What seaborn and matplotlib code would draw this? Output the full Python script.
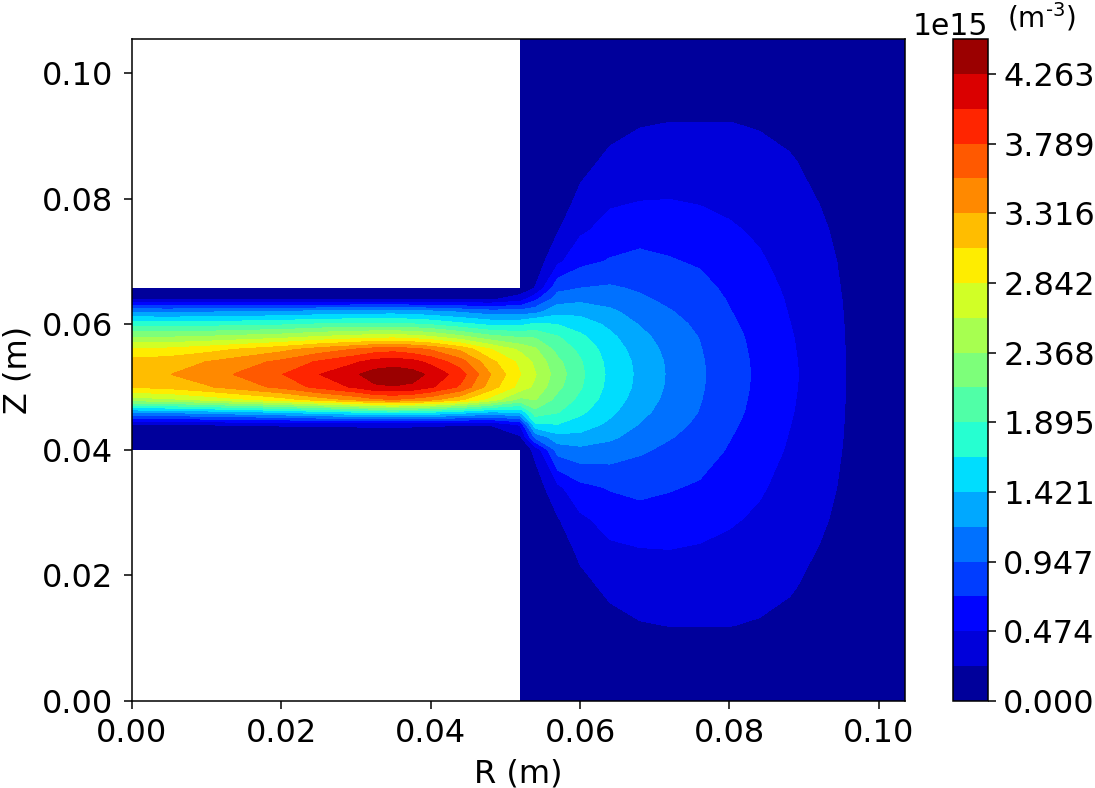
import numpy as np
import matplotlib
matplotlib.use("Agg")
import matplotlib.pyplot as plt
import seaborn as sns

sns.set_style("ticks", {"axes.edgecolor": "black", "axes.labelcolor": "black",
                        "text.color": "black", "xtick.color": "black", "ytick.color": "black"})
plt.rcParams["font.family"] = ["DejaVu Sans"]
plt.rcParams["font.size"] = 23
plt.rcParams["xtick.major.size"] = 6
plt.rcParams["ytick.major.size"] = 6
plt.rcParams["xtick.major.width"] = 1.1
plt.rcParams["ytick.major.width"] = 1.1
plt.rcParams["xtick.major.pad"] = 6
plt.rcParams["ytick.major.pad"] = 7.5
plt.rcParams["axes.linewidth"] = 1.1

# grid nodes (m)
r_channel = [0.000, 0.005, 0.010, 0.015, 0.020, 0.025, 0.030, 0.0325, 0.035, 0.0375,
             0.040, 0.044, 0.048]
r_plume = [0.052, 0.054, 0.057, 0.060, 0.064, 0.068, 0.072, 0.076, 0.080, 0.084,
           0.088, 0.092, 0.096, 0.100, 0.1035]
z_nodes = [0.000, 0.006, 0.012, 0.018, 0.024, 0.029, 0.034, 0.040, 0.042, 0.044,
           0.046, 0.048, 0.050, 0.052, 0.054, 0.056, 0.058, 0.060, 0.062, 0.064,
           0.0657, 0.070, 0.075, 0.080, 0.086, 0.092, 0.098, 0.1054]

# density along Z inside the channel (z = 0.040 .. 0.0657), one list per r_channel node, 1e15 m^-3
channel_cols = [
    [0.0, 0.06, 0.24, 1.20, 2.50, 3.10, 3.25, 3.17, 2.87, 2.35, 1.80, 1.15, 0.20, 0.0],
    [0.0, 0.06, 0.24, 1.23, 2.56, 3.16, 3.31, 3.21, 2.90, 2.35, 1.78, 1.14, 0.20, 0.0],
    [0.0, 0.06, 0.24, 1.30, 2.68, 3.29, 3.44, 3.32, 2.99, 2.39, 1.80, 1.16, 0.20, 0.0],
    [0.0, 0.05, 0.25, 1.37, 2.82, 3.45, 3.60, 3.46, 3.11, 2.45, 1.82, 1.18, 0.20, 0.0],
    [0.0, 0.05, 0.26, 1.45, 2.98, 3.62, 3.78, 3.61, 3.24, 2.51, 1.85, 1.21, 0.20, 0.0],
    [0.0, 0.05, 0.27, 1.56, 3.19, 3.86, 4.02, 3.82, 3.42, 2.62, 1.91, 1.25, 0.20, 0.0],
    [0.0, 0.05, 0.28, 1.66, 3.38, 4.07, 4.24, 4.00, 3.57, 2.70, 1.94, 1.28, 0.20, 0.0],
    [0.0, 0.05, 0.28, 1.72, 3.50, 4.23, 4.36, 4.12, 3.66, 2.73, 1.95, 1.29, 0.20, 0.0],
    [0.0, 0.05, 0.28, 1.75, 3.55, 4.25, 4.42, 4.15, 3.70, 2.75, 1.95, 1.30, 0.20, 0.0],
    [0.0, 0.05, 0.28, 1.72, 3.48, 4.22, 4.36, 4.11, 3.63, 2.70, 1.91, 1.27, 0.20, 0.0],
    [0.0, 0.05, 0.27, 1.67, 3.39, 4.06, 4.22, 3.96, 3.53, 2.63, 1.86, 1.24, 0.20, 0.0],
    [0.0, 0.04, 0.25, 1.54, 3.13, 3.75, 3.90, 3.66, 3.26, 2.43, 1.72, 1.15, 0.19, 0.0],
    [0.0, 0.04, 0.25, 1.40, 2.75, 3.20, 3.32, 3.15, 2.85, 2.20, 1.60, 1.05, 0.20, 0.0],
]

# density along the full Z range, one list per r_plume node, 1e15 m^-3
plume_cols = [
    [0, 0, 0, 0, 0, 0, 0, 0.05, 0.20, 0.50, 1.45, 2.30, 2.75, 2.85,
     2.78, 2.55, 2.10, 1.60, 1.05, 0.35, 0.08, 0, 0, 0, 0, 0, 0, 0],
    [0.0, 0.005, 0.01, 0.02, 0.03, 0.05, 0.10, 0.30, 1.00, 1.60, 2.05, 2.38, 2.55, 2.62,
     2.55, 2.40, 2.10, 1.70, 1.10, 0.65, 0.25, 0.10, 0.05, 0.03, 0.02, 0.01, 0.005, 0.0],
    [0.005, 0.015, 0.03, 0.06, 0.12, 0.22, 0.42, 1.05, 1.33, 1.65, 1.91, 2.05, 2.19, 2.25,
     2.19, 2.05, 1.91, 1.65, 1.33, 1.07, 0.88, 0.42, 0.22, 0.12, 0.06, 0.03, 0.015, 0.005],
    [0.02, 0.04, 0.09, 0.17, 0.28, 0.43, 0.64, 1.12, 1.35, 1.54, 1.71, 1.84, 1.92, 1.95,
     1.92, 1.84, 1.71, 1.54, 1.35, 1.12, 0.95, 0.64, 0.43, 0.28, 0.17, 0.09, 0.04, 0.02],
    [0.04, 0.08, 0.17, 0.28, 0.43, 0.56, 0.73, 1.08, 1.23, 1.37, 1.47, 1.54, 1.58, 1.60,
     1.58, 1.54, 1.47, 1.37, 1.23, 1.08, 0.98, 0.73, 0.56, 0.43, 0.28, 0.17, 0.08, 0.04],
    [0.05, 0.10, 0.22, 0.35, 0.46, 0.62, 0.77, 0.98, 1.08, 1.17, 1.26, 1.32, 1.36, 1.37,
     1.36, 1.32, 1.26, 1.17, 1.08, 0.98, 0.92, 0.77, 0.62, 0.46, 0.35, 0.22, 0.10, 0.05],
    [0.05, 0.10, 0.24, 0.36, 0.47, 0.60, 0.73, 0.90, 0.96, 1.01, 1.06, 1.11, 1.14, 1.15,
     1.14, 1.11, 1.06, 1.01, 0.96, 0.90, 0.85, 0.73, 0.60, 0.47, 0.36, 0.24, 0.10, 0.05],
    [0.05, 0.10, 0.24, 0.35, 0.45, 0.56, 0.68, 0.83, 0.87, 0.91, 0.94, 0.96, 0.975, 0.98,
     0.975, 0.96, 0.94, 0.91, 0.87, 0.83, 0.79, 0.68, 0.56, 0.45, 0.35, 0.24, 0.10, 0.05],
    [0.05, 0.10, 0.24, 0.33, 0.42, 0.50, 0.59, 0.69, 0.72, 0.75, 0.78, 0.80, 0.815, 0.82,
     0.815, 0.80, 0.78, 0.75, 0.72, 0.69, 0.66, 0.59, 0.50, 0.42, 0.33, 0.24, 0.10, 0.05],
    [0.04, 0.09, 0.22, 0.30, 0.37, 0.44, 0.50, 0.58, 0.60, 0.62, 0.64, 0.65, 0.66, 0.665,
     0.66, 0.65, 0.64, 0.62, 0.60, 0.58, 0.56, 0.50, 0.44, 0.37, 0.30, 0.22, 0.09, 0.04],
    [0.03, 0.08, 0.18, 0.255, 0.30, 0.35, 0.40, 0.45, 0.465, 0.48, 0.495, 0.505, 0.515, 0.52,
     0.515, 0.505, 0.495, 0.48, 0.465, 0.45, 0.435, 0.40, 0.35, 0.30, 0.255, 0.18, 0.08, 0.03],
    [0.02, 0.06, 0.12, 0.18, 0.23, 0.27, 0.305, 0.34, 0.348, 0.355, 0.36, 0.365, 0.368, 0.37,
     0.368, 0.365, 0.36, 0.355, 0.348, 0.34, 0.33, 0.305, 0.27, 0.23, 0.18, 0.12, 0.06, 0.02],
    [0.01, 0.04, 0.08, 0.12, 0.15, 0.17, 0.19, 0.205, 0.21, 0.213, 0.216, 0.218, 0.22, 0.22,
     0.22, 0.218, 0.216, 0.213, 0.21, 0.205, 0.20, 0.19, 0.17, 0.15, 0.12, 0.08, 0.04, 0.01],
    [0.005, 0.018, 0.035, 0.048, 0.058, 0.065, 0.07, 0.075, 0.077, 0.078, 0.079, 0.08, 0.08, 0.08,
     0.08, 0.08, 0.079, 0.078, 0.077, 0.075, 0.073, 0.07, 0.065, 0.058, 0.048, 0.035, 0.018, 0.005],
    [0.0, 0.008, 0.015, 0.02, 0.024, 0.026, 0.028, 0.029, 0.03, 0.03, 0.03, 0.03, 0.03, 0.03,
     0.03, 0.03, 0.03, 0.03, 0.03, 0.029, 0.028, 0.028, 0.026, 0.024, 0.02, 0.015, 0.008, 0.0],
]

n_max = 4.5e15
n_levels = 20

R = np.array(r_channel + r_plume)
Z = np.array(z_nodes)
density = np.full((len(Z), len(R)), np.nan)
for j, col in enumerate(channel_cols):
    density[7:21, j] = col
for k, col in enumerate(plume_cols):
    density[:, len(r_channel) + k] = col
density = density * 1e15

levels = np.linspace(0, n_max, n_levels)
cmap = plt.get_cmap("jet")

fig = plt.figure(figsize=(10.95, 7.88), dpi=100)
ax = fig.add_axes([0.1205, 0.1104, 0.7060, 0.8401])
cax = fig.add_axes([0.8703, 0.1104, 0.0320, 0.8401])

cs = ax.contourf(R, Z, density, levels=levels, cmap=cmap, corner_mask=False)
cbar = fig.colorbar(cs, cax=cax)
cbar.outline.set_linewidth(1.1)
cbar.ax.tick_params(pad=5)
cbar.ax.yaxis.offsetText.set_fontsize(21.5)

ax.set_xlim(0, 0.1035)
ax.set_ylim(0, 0.1054)
ax.set_xticks([0.00, 0.02, 0.04, 0.06, 0.08, 0.10])
ax.set_yticks([0.00, 0.02, 0.04, 0.06, 0.08, 0.10])
ax.set_xlabel("R (m)", labelpad=7)
ax.set_ylabel("Z (m)", labelpad=6)

fig.text(0.951, 0.958, "(m$^{\\text{-3}}$)", ha="center", va="bottom", fontsize=20)

fig.savefig("out.png", dpi=100)
